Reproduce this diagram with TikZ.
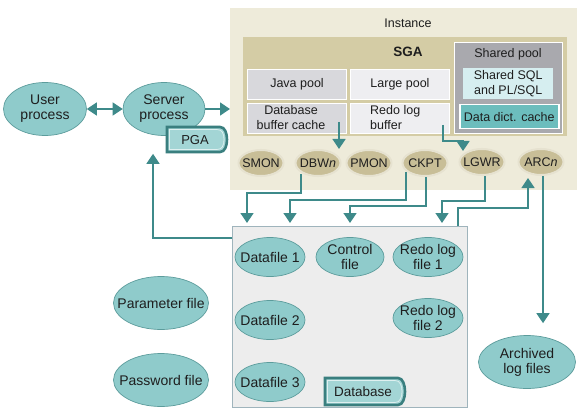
\documentclass[tikz,border=0pt]{standalone}
\usepackage{fontspec}
\setmainfont{Liberation Sans}
\usetikzlibrary{arrows.meta,shapes.geometric,calc}
\definecolor{inst}{HTML}{EEEBDA}
\definecolor{sga}{HTML}{D4CCA5}
\definecolor{poolA}{HTML}{D8D8DC}
\definecolor{poolB}{HTML}{EEEEF1}
\definecolor{shp}{HTML}{A9A9AE}
\definecolor{ssql}{HTML}{D6EEF0}
\definecolor{ddc}{HTML}{6CBDBD}
\definecolor{bgp}{HTML}{C8BE97}
\definecolor{ell}{HTML}{8FCBCB}
\definecolor{ellb}{HTML}{5C9C9C}
\definecolor{arr}{HTML}{3E8A8A}
\definecolor{dbf}{HTML}{EDEDED}
\definecolor{dbb}{HTML}{9FB4BC}
\definecolor{tagf}{HTML}{A3D5D5}
\definecolor{tagd}{HTML}{3A7F7F}
\definecolor{txt}{HTML}{1E1E1E}
\newcommand\tagpath[4]{(#1,#2) -- ({#3-7},#2) .. controls ({#3-2},#2) and (#3,{(#2+#4)/2-6}) .. (#3,{(#2+#4)/2}) .. controls (#3,{(#2+#4)/2+6}) and ({#3-2},#4) .. ({#3-7},#4) -- (#1,#4) -- cycle}
\tikzset{
  t12/.style={font=\fontsize{12.5}{15}\selectfont, align=center, inner sep=0pt, text=txt},
  t14/.style={font=\fontsize{14}{15}\selectfont, align=center, inner sep=0pt, text=txt},
  area/.style={rectangle, anchor=north west, inner sep=0pt},
  pool/.style={rectangle, anchor=north west, inner sep=0pt, draw=white, line width=1pt, minimum width=99pt, minimum height=30pt},
  proc/.style={ellipse, fill=ell, draw=ellb, line width=0.7pt, inner sep=0pt},
  bgproc/.style={ellipse, fill=bgp, draw=white!55!bgp, line width=2pt, inner sep=0pt, minimum width=45pt, minimum height=26pt},
  conn/.style={draw=arr, line width=1.4pt, -{Triangle[width=13pt,length=10pt]}},
}
\begin{document}
\begin{tikzpicture}[x=1pt,y=-1pt]
\useasboundingbox (0,0) rectangle (577,414);
\fill[white] (0,0) rectangle (577,414);
% Instance
\node[area, fill=inst, minimum width=347pt, minimum height=182pt] (inst) at (230,8) {};
\node[t12] (instl) at (408,23) {Instance};
\node[area, fill=sga, minimum width=324pt, minimum height=99pt] (sga) at (243,37) {};
\node[t12, font=\bfseries\fontsize{13.5}{15}\selectfont] (sgal) at (408,52) {SGA};
\node[pool, fill=poolA] (java) at (247,69) {};
\node[t12] (javal) at (java) {Java pool};
\node[pool, fill=poolB] (large) at (350,69) {};
\node[t12] (largel) at (large) {Large pool};
\node[pool, fill=poolA] (dbc) at (247,103) {};
\node[t12] (dbcl) at (291,118) {Database\\buffer cache};
\node[pool, fill=poolB] (rlb) at (350,103) {};
\node[t12, anchor=west, align=left] (rlbl) at (370,118) {Redo log\\buffer};
\node[area, fill=shp, draw=white, line width=1.2pt, minimum width=108pt, minimum height=91pt] (shp) at (454,42) {};
\node[t12] (shpl) at (508,54) {Shared pool};
\node[area, fill=ssql, minimum width=90pt, minimum height=31pt] (ssql) at (463,68) {};
\node[t12] (ssqll) at (ssql) {Shared SQL\\and PL/SQL};
\node[area, fill=ddc, draw=white, line width=1.5pt, minimum width=99pt, minimum height=24pt] (ddc) at (459,104) {};
\node[t12] (ddcl) at (ddc) {Data dict. cache};
% background processes
\node[bgproc] (smon) at (261,163) {};
\node[t12] (smonl) at (smon) {SMON};
\node[bgproc] (dbwn) at (318,163) {};
\node[t12] (dbwnl) at (dbwn) {DBW\textit{n}};
\node[bgproc] (pmon) at (369,163) {};
\node[t12] (pmonl) at (pmon) {PMON};
\node[bgproc] (ckpt) at (425,163) {};
\node[t12] (ckptl) at (ckpt) {CKPT};
\node[bgproc] (lgwr) at (482,162) {};
\node[t12] (lgwrl) at (lgwr) {LGWR};
\node[bgproc] (arcn) at (541,162) {};
\node[t12] (arcnl) at (arcn) {ARC\textit{n}};
% client side
\node[proc, minimum width=83pt, minimum height=53pt] (user) at (45,109) {};
\node[t14] (userl) at (user) {User\\process};
\node[proc, minimum width=82pt, minimum height=53pt] (server) at (164,109) {};
\node[t14] (serverl) at (server) {Server\\process};
\draw[tagd, line width=2.6pt, fill=tagf] \tagpath{167}{127}{227}{152};
\draw[white!65!tagf, line width=0.7pt] \tagpath{169.5}{129.5}{224}{149.5};
\node[t12, font=\fontsize{13}{15}\selectfont] (pga) at (195,140) {PGA};
\node[proc, minimum width=95pt, minimum height=53pt] (param) at (161,303) {};
\node[t14] (paraml) at (param) {Parameter file};
\node[proc, minimum width=95pt, minimum height=53pt] (pwd) at (161,380) {};
\node[t14] (pwdl) at (pwd) {Password file};
% database
\node[area, fill=dbf, draw=dbb, line width=0.8pt, minimum width=235pt, minimum height=181pt] (db) at (232,226) {};
\node[proc, minimum width=70pt, minimum height=39pt] (df1) at (270,257) {};
\node[t14] (df1l) at (df1) {Datafile 1};
\node[proc, minimum width=68pt, minimum height=39pt] (ctl) at (350,257) {};
\node[t14] (ctll) at (ctl) {Control\\file};
\node[proc, minimum width=70pt, minimum height=39pt] (rl1) at (428,257) {};
\node[t14] (rl1l) at (rl1) {Redo log\\file 1};
\node[proc, minimum width=70pt, minimum height=39pt] (df2) at (270,320) {};
\node[t14] (df2l) at (df2) {Datafile 2};
\node[proc, minimum width=70pt, minimum height=39pt] (rl2) at (428,318) {};
\node[t14] (rl2l) at (rl2) {Redo log\\file 2};
\node[proc, minimum width=70pt, minimum height=39pt] (df3) at (270,382) {};
\node[t14] (df3l) at (df3) {Datafile 3};
\draw[tagd, line width=2.6pt, fill=tagf] \tagpath{325}{378}{405}{405};
\draw[white!65!tagf, line width=0.7pt] \tagpath{327.5}{380.5}{402}{402.5};
\node[t12, font=\fontsize{13.5}{15}\selectfont] (dbtag) at (363,392) {Database};
\node[proc, minimum width=97pt, minimum height=53pt] (arch) at (527,362) {};
\node[t14] (archl) at (arch) {Archived\\log files};
% connectors
\draw[conn, {Triangle[width=13pt,length=10pt]}-{Triangle[width=13pt,length=10pt]}] (user.east) -- (server.west);
\draw[conn] (server.east) -- (server.east -| inst.west);
\draw[conn] ($(db.north west)+(0,12)$) -| ($(server.south)+(-11,18)$);
\coordinate (dbcout) at ($(dbc.south east)+(-8,-12)$);
\draw[conn] (dbcout) -- (dbcout |- dbwn.north);
\coordinate (rlbout) at ($(rlb.south east)+(-7,-9)$);
\draw[conn] (rlbout) -- ++(0,16) -| ($(lgwr.north)+(-19,3)$);
\draw[conn] ($(dbwn.south)+(-17,-3)$) |- ($(db.north west)+(15,-33)$) -- ($(db.north west)+(15,-3)$);
\draw[conn] ($(ckpt.south)+(-19,-5)$) |- ($(db.north west)+(58,-26)$) -- ($(db.north west)+(58,-3)$);
\draw[conn] ($(ckpt.south)+(1,0)$) |- ($(db.north west)+(118,-20)$) -- ($(db.north west)+(118,-3)$);
\draw[conn] ($(lgwr.south)+(3,0)$) |- ($(db.north west)+(210,-25)$) -- ($(db.north west)+(210,-3)$);
\draw[conn] ($(db.north east)+(-10,0)$) |- ($(arcn.south)+(-13,32)$) -- ($(arcn.south)+(-13,2)$);
\coordinate (arcout) at ($(arcn.south)+(2,0)$);
\draw[conn, shorten >=12pt] (arcout) -- (arcout |- arch.north);
\end{tikzpicture}
\end{document}
